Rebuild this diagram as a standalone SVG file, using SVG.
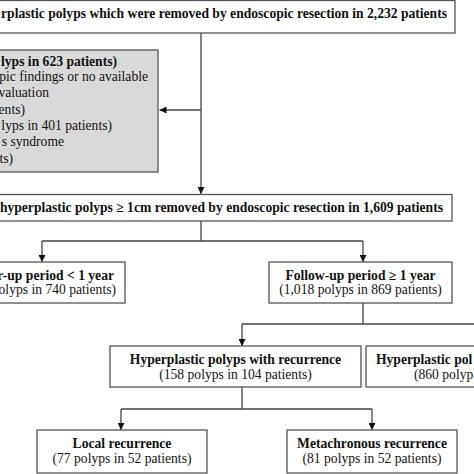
<svg xmlns="http://www.w3.org/2000/svg" width="474" height="474" viewBox="0 0 474 474" font-family="Liberation Serif, Times New Roman, serif">
<defs>
<style>
.box{fill:#fff;stroke:#555;stroke-width:1.3}
.gray{fill:#d9d9d9;stroke:#555;stroke-width:1.3}
.ln{fill:none;stroke:#444;stroke-width:1.3}
text{font-family:'Liberation Serif','Times New Roman',serif;font-size:13.6px;fill:#111}
.b{font-weight:bold}
</style>
<marker id="ah" viewBox="0 0 10 10" refX="10" refY="5" markerWidth="7" markerHeight="7" markerUnits="userSpaceOnUse" orient="auto">
<path d="M0,0 L10,5 L0,10 z" fill="#111"/>
</marker>
</defs>
<rect width="474" height="474" fill="#fff"/>
<g id="connectors">
<path class="ln" d="M201,33 V194" marker-end="url(#ah)"/>
<path class="ln" d="M201,110 H159.5" marker-end="url(#ah)"/>
<path class="ln" d="M201,221 V241 M42,241 H363"/>
<path class="ln" d="M42,241 V262" marker-end="url(#ah)"/>
<path class="ln" d="M363,241 V262" marker-end="url(#ah)"/>
<path class="ln" d="M363,303 V324 M242,324 H480"/>
<path class="ln" d="M242,324 V346" marker-end="url(#ah)"/>
<path class="ln" d="M242,387 V409 M121,409 H372"/>
<path class="ln" d="M121,409 V430" marker-end="url(#ah)"/>
<path class="ln" d="M372,409 V430" marker-end="url(#ah)"/>
</g>
<g id="n-total">
<rect class="box" x="-10" y="0.5" width="465" height="32.5"/>
<text class="b" x="447" y="17.5" text-anchor="end">rplastic polyps which were removed by endoscopic resection in 2,232 patients</text>
</g>
<g id="n-excluded">
<rect class="gray" x="-10" y="50" width="168" height="122"/>
<text class="b" x="117" y="65.5" text-anchor="end">lyps in 623 patients)</text>
<text x="148" y="81" text-anchor="end">pic findings or no available</text>
<text x="49" y="97" text-anchor="end">valuation</text>
<text x="25" y="113.5" text-anchor="end">tients)</text>
<text x="112" y="130" text-anchor="end">lyps in 401 patients)</text>
<text x="64" y="146" text-anchor="end">s syndrome</text>
<text x="13" y="162.5" text-anchor="end">ts)</text>
</g>
<g id="n-large">
<rect class="box" x="-10" y="194.5" width="462" height="26.5"/>
<text class="b" x="443" y="212" text-anchor="end">hyperplastic polyps ≥ 1cm removed by endoscopic resection in 1,609 patients</text>
</g>
<g id="n-short">
<rect class="box" x="-45" y="262" width="170" height="41"/>
<text class="b" x="114" y="279.5" text-anchor="end">r-up period &lt; 1 year</text>
<text x="116" y="294" text-anchor="end">olyps in 740 patients)</text>
</g>
<g id="n-long">
<rect class="box" x="269" y="262" width="183" height="41"/>
<text class="b" x="360.5" y="279.5" text-anchor="middle">Follow-up period ≥ 1 year</text>
<text x="360.5" y="294" text-anchor="middle">(1,018 polyps in 869 patients)</text>
</g>
<g id="n-recur">
<rect class="box" x="110" y="346" width="251" height="41"/>
<text class="b" x="235.5" y="364" text-anchor="middle">Hyperplastic polyps with recurrence</text>
<text x="235.5" y="379" text-anchor="middle">(158 polyps in 104 patients)</text>
</g>
<g id="n-norecur">
<rect class="box" x="366" y="346" width="120" height="41"/>
<text class="b" x="376" y="364">Hyperplastic pol</text>
<text x="414" y="379">(860 polyp</text>
</g>
<g id="n-local">
<rect class="box" x="37" y="430" width="170" height="43"/>
<text class="b" x="122" y="448" text-anchor="middle">Local recurrence</text>
<text x="122" y="463" text-anchor="middle">(77 polyps in 52 patients)</text>
</g>
<g id="n-meta">
<rect class="box" x="287" y="430" width="170" height="43"/>
<text class="b" x="372" y="448" text-anchor="middle">Metachronous recurrence</text>
<text x="372" y="463" text-anchor="middle">(81 polyps in 52 patients)</text>
</g>
</svg>
